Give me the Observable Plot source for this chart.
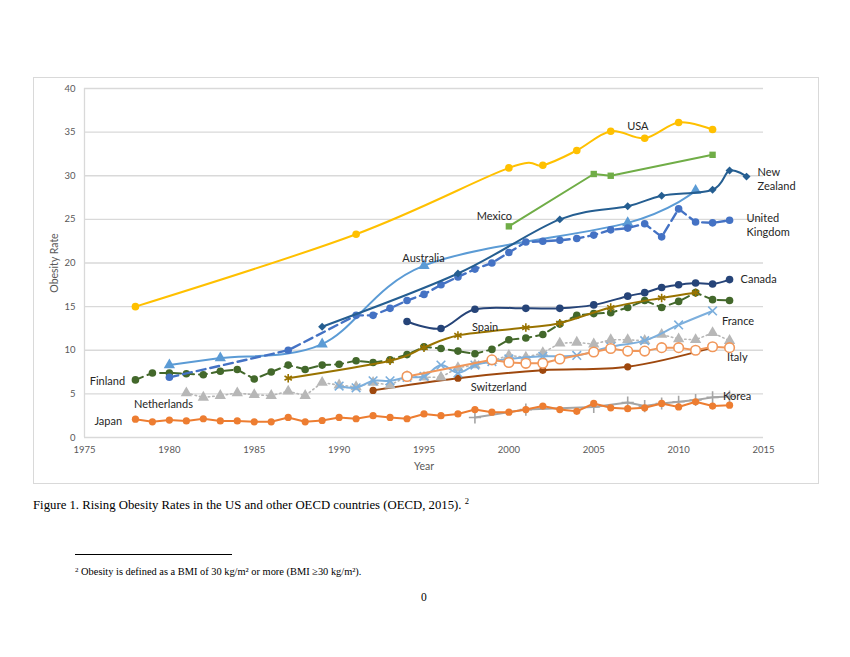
<!DOCTYPE html>
<html><head><meta charset="utf-8">
<script src="https://cdn.jsdelivr.net/npm/d3@7"></script>
<script src="https://cdn.jsdelivr.net/npm/@observablehq/plot@0.6"></script>
<style>
html,body{margin:0;padding:0;background:#fff;}
body{width:850px;height:657px;position:relative;overflow:hidden;color:#000;}
.serif{font-family:"Liberation Serif","Times New Roman",serif;font-weight:normal;}
#frame{position:absolute;left:33px;top:77px;width:786px;height:407px;border:1px solid #D9D9D9;box-sizing:border-box;}
#chart{position:absolute;left:33px;top:77px;}
#caption{position:absolute;left:33px;top:498px;font-size:12.75px;line-height:15px;white-space:nowrap;}
#caption sup{font-size:8.5px;vertical-align:5px;line-height:0}
#rule{position:absolute;left:75px;top:554px;width:157px;height:1px;background:#000;}
#foot{position:absolute;left:75px;top:566px;font-size:10.4px;line-height:12px;white-space:nowrap;}
#foot sup{font-size:7px;vertical-align:3.5px;line-height:0}
#page{position:absolute;left:421px;top:591px;font-size:11.5px;line-height:13px;}
</style>
</head><body>
<div id="frame"></div>
<div id="chart"></div>
<div id="caption" class="serif">Figure 1. Rising Obesity Rates in the US and other OECD countries (OECD, 2015). <sup>2</sup></div>
<div id="rule"></div>
<div id="foot" class="serif"><sup>2</sup> Obesity is defined as a BMI of 30 kg/m² or more (BMI ≥30 kg/m²).</div>
<div id="page" class="serif">0</div>
<script>
// ---- data (year, obesity rate %) ----
const usa = [[1978,15.0],[1991,23.3],[2000,30.9],[2002,31.2],[2004,32.9],[2006,35.1],[2008,34.3],[2010,36.1],[2012,35.3]];
const mexico = [[2000,24.2],[2005,30.2],[2006,30.0],[2012,32.4]];
const newZealand = [[1989,12.7],[1997,18.8],[2003,25.0],[2007,26.5],[2009,27.7],[2012,28.4],[2013,30.6],[2014,29.9]];
const australia = [[1980,8.3],[1983,9.1],[1989,10.7],[1995,19.7],[2007,24.6],[2011,28.3]];
const unitedKingdom = [[1980,6.9],[1987,10.0],[1991,14.0],[1992,14.0],[1993,14.8],[1994,15.7],[1995,16.4],[1996,17.5],[1997,18.4],[1998,19.3],[1999,20.0],[2000,21.2],[2001,22.4],[2002,22.5],[2003,22.6],[2004,22.8],[2005,23.2],[2006,23.8],[2007,24.0],[2008,24.5],[2009,23.0],[2010,26.2],[2011,24.7],[2012,24.6],[2013,24.9]];
const canada = [[1994,13.3],[1996,12.5],[1998,14.7],[2001,14.8],[2003,14.8],[2005,15.2],[2007,16.2],[2008,16.6],[2009,17.2],[2010,17.5],[2011,17.7],[2012,17.6],[2013,18.1]];
const spain = [[1987,6.8],[1993,8.8],[1995,10.3],[1997,11.7],[2001,12.6],[2003,13.1],[2006,14.9],[2009,16.0],[2011,16.6]];
const finland = [[1978,6.6],[1979,7.4],[1980,7.4],[1981,7.3],[1982,7.2],[1983,7.6],[1984,7.8],[1985,6.7],[1986,7.5],[1987,8.3],[1988,7.8],[1989,8.3],[1990,8.4],[1991,8.8],[1992,8.6],[1993,8.9],[1994,9.5],[1995,10.4],[1996,10.2],[1997,9.9],[1998,9.6],[1999,10.1],[2000,11.2],[2001,11.4],[2002,11.8],[2003,13.0],[2004,14.0],[2005,14.2],[2006,14.3],[2007,14.9],[2008,15.7],[2009,14.9],[2010,15.6],[2011,16.6],[2012,15.8],[2013,15.7]];
const netherlands = [[1981,5.1],[1982,4.6],[1983,4.8],[1984,5.1],[1985,4.9],[1986,4.8],[1987,5.3],[1988,4.8],[1989,6.3],[1990,6.0],[1991,5.8],[1992,6.3],[1993,6.0],[1994,7.0],[1995,6.9],[1996,6.9],[1997,8.0],[1998,8.3],[1999,8.8],[2000,9.4],[2001,9.2],[2002,9.7],[2003,10.8],[2004,10.9],[2005,10.7],[2006,11.2],[2007,11.2],[2008,11.1],[2009,11.8],[2010,11.3],[2011,11.2],[2012,12.0],[2013,11.1]];
const france = [[1990,5.9],[1991,5.7],[1992,6.5],[1993,6.5],[1994,6.9],[1995,7.0],[1996,8.3],[1997,7.4],[1998,8.3],[1999,8.7],[2000,9.0],[2002,9.3],[2004,9.4],[2006,10.4],[2008,11.1],[2010,12.9],[2012,14.5]];
const italy = [[1994,7.0],[1999,8.9],[2000,8.6],[2001,8.5],[2002,8.5],[2003,9.0],[2005,9.8],[2006,10.2],[2007,9.9],[2008,9.9],[2009,10.3],[2010,10.3],[2011,10.0],[2012,10.4],[2013,10.3]];
const switzerland = [[1992,5.4],[1997,6.8],[2002,7.7],[2007,8.1],[2012,10.3]];
const japan = [[1978,2.1],[1979,1.8],[1980,2.0],[1981,1.9],[1982,2.15],[1983,1.9],[1984,1.9],[1985,1.8],[1986,1.8],[1987,2.3],[1988,1.8],[1989,1.95],[1990,2.3],[1991,2.15],[1992,2.5],[1993,2.3],[1994,2.15],[1995,2.7],[1996,2.5],[1997,2.7],[1998,3.2],[1999,2.9],[2000,2.9],[2001,3.2],[2002,3.6],[2003,3.2],[2004,3.0],[2005,3.9],[2006,3.4],[2007,3.3],[2008,3.4],[2009,3.9],[2010,3.5],[2011,4.1],[2012,3.6],[2013,3.7]];
const korea = [[1998,2.3],[2001,3.2],[2005,3.5],[2007,4.0],[2008,3.6],[2009,3.9],[2010,4.1],[2011,4.3],[2012,4.6],[2013,4.7]];

// axis ticks
const xTicks = [1975,1980,1985,1990,1995,2000,2005,2010,2015];
const yTicks = [0,5,10,15,20,25,30,35,40];

// series labels: text, year, value, anchor
const labelText = ["USA","Mexico","New\nZealand","United\nKingdom","Australia","Canada","Spain","France","Italy","Switzerland","Finland","Netherlands","Japan","Korea"];
const labelYear = [2007.6,1999.15,2014.65,2014.0,1994.97,2013.65,1998.6,2012.55,2012.85,1999.4,1976.35,1979.65,1976.4,2012.62];
const labelValue = [35.76,25.44,29.7,24.45,20.63,18.22,12.72,13.41,9.28,5.85,6.53,3.9,1.95,4.81];
const labelAnchor = ["middle","middle","start","start","middle","start","middle","start","start","middle","middle","middle","middle","start"];

// ---- styles ----
const series = [
  {data: korea, color:"#A5A5A5", symbol:"plus", hollowStroke:true, r:4, curve:"linear"},
  {data: japan, color:"#ED7D31", symbol:"circle", r:3.6, curve:"linear"},
  {data: switzerland, color:"#9E480E", symbol:"circle", r:3.6, curve:"cardinal"},
  {data: netherlands, color:"#B7B7B7", symbol:"triangle", r:4.2, curve:"linear", dash:"1.5,3", lw:1.6},
  {data: france, color:"#7CAFDD", symbol:"times", hollowStroke:true, r:4, curve:"cardinal"},
  {data: italy, color:"#F1975A", symbol:"circle", r:4.8, curve:"linear", open:true},
  {data: finland, color:"#43682B", symbol:"circle", r:3.8, curve:"linear", dash:"8,5"},
  {data: spain, color:"#997300", symbol:"asterisk", hollowStroke:true, r:4, curve:"cardinal"},
  {data: canada, color:"#264478", symbol:"circle", r:3.8, curve:"cardinal"},
  {data: australia, color:"#5B9BD5", symbol:"triangle", r:4.2, curve:"cardinal"},
  {data: unitedKingdom, color:"#4472C4", symbol:"circle", r:3.8, curve:"linear", dash:"9,5", lw:2.4},
  {data: newZealand, color:"#255E91", symbol:"diamond2", r:3.6, curve:"cardinal"},
  {data: mexico, color:"#70AD47", symbol:"square", r:3.6, curve:"linear"},
  {data: usa, color:"#FFC000", symbol:"circle", r:3.8, curve:"cardinal"}
];

const X = d => d[0], Y = d => d[1];
const marks = [
  Plot.ruleY(yTicks, {stroke:"#D9D9D9", strokeWidth:1.3}),
  Plot.ruleX([1975], {y1:0, y2:40, stroke:"#D9D9D9", strokeWidth:1.3})
];
for (const s of series) {
  marks.push(Plot.line(s.data, {x:X, y:Y, stroke:s.color, strokeWidth:s.lw || 2, strokeDasharray:s.dash, curve:s.curve}));
  if (s.hollowStroke) {
    marks.push(Plot.dot(s.data, {x:X, y:Y, symbol:s.symbol, r:s.r, stroke:s.color, strokeWidth:1.6, fill:"none"}));
  } else if (s.open) {
    marks.push(Plot.dot(s.data, {x:X, y:Y, symbol:s.symbol, r:s.r, stroke:s.color, strokeWidth:1.6, fill:"white"}));
  } else {
    marks.push(Plot.dot(s.data, {x:X, y:Y, symbol:s.symbol, r:s.r, fill:s.color, stroke:"none"}));
  }
}
const labelIdx = d3.range(labelText.length);
for (const anch of ["start","middle"]) {
  marks.push(Plot.text(labelIdx.filter(i => labelAnchor[i] === anch), {
    x: i => labelYear[i], y: i => labelValue[i], text: i => labelText[i],
    textAnchor: anch, fill:"#262626", fontSize:11, lineHeight:1.3
  }));
}

const chart = Plot.plot({
  width: 786, height: 407,
  marginLeft: 51, marginRight: 56, marginTop: 11, marginBottom: 47,
  style: {fontFamily: "Lato, 'Open Sans', sans-serif", fontSize: "9.5px", color: "#595959", background: "transparent", overflow: "visible"},
  x: {domain:[1975,2015], ticks: xTicks, tickFormat: d => String(d), tickSize: 0, tickPadding: 9, label: "Year", labelAnchor: "center", labelOffset: 32, labelArrow: "none"},
  y: {domain:[0,40], ticks: yTicks, tickSize: 0, tickPadding: 9, label: "Obesity Rate", labelAnchor: "center", labelOffset: 34, labelArrow: "none"},
  marks
});
d3.select(chart).selectAll('[aria-label="y-axis label"] text, [aria-label="x-axis label"] text, [aria-label="y-axis label"], [aria-label="x-axis label"]').style("font-size", "10.5px");
document.getElementById("chart").appendChild(chart);
</script>
</body></html>
